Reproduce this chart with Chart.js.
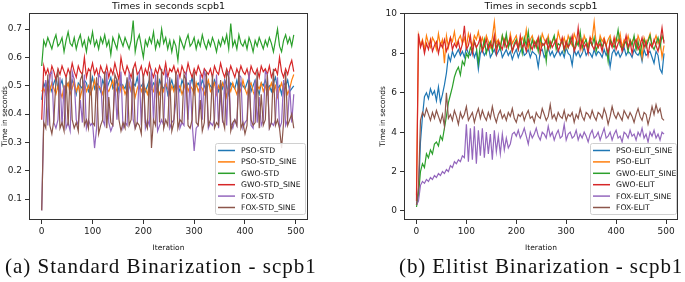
<!DOCTYPE html>
<html>
<head>
<meta charset="utf-8">
<script src="https://cdn.jsdelivr.net/npm/chart.js@4"></script>
<style>
  body { margin: 0; background: #fff; }
  #wrap { position: relative; width: 685px; height: 282px; overflow: hidden; }
  #c1 { position: absolute; left: 0; top: 0; }
  #c2 { position: absolute; left: 345px; top: 0; }
  .cap { position: absolute; top: 256px; font-family: "Liberation Serif", serif; font-size: 21px;
         line-height: 21px; color: #111; white-space: nowrap; }
</style>
</head>
<body>
<div id="wrap">
  <canvas id="c1" width="345" height="256"></canvas>
  <canvas id="c2" width="340" height="256"></canvas>
  <div class="cap" style="left:5px; letter-spacing:1px">(a) Standard Binarization - scpb1</div>
  <div class="cap" style="left:399px; letter-spacing:0.9px">(b) Elitist Binarization - scpb1</div>
</div>
<script>
// iterations, sampled every 4 steps
const iterations = [0,4,8,12,16,20,24,28,32,36,40,44,48,52,56,60,64,68,72,76,
  80,84,88,92,96,100,104,108,112,116,120,124,128,132,136,140,144,148,152,156,
  160,164,168,172,176,180,184,188,192,196,200,204,208,212,216,220,224,228,232,236,
  240,244,248,252,256,260,264,268,272,276,280,284,288,292,296,300,304,308,312,316,
  320,324,328,332,336,340,344,348,352,356,360,364,368,372,376,380,384,388,392,396,
  400,404,408,412,416,420,424,428,432,436,440,444,448,452,456,460,464,468,472,476,
  480,484,488,492,496];

const xTicks = [0, 100, 200, 300, 400, 500];
const yTicksStd = [0.1, 0.2, 0.3, 0.4, 0.5, 0.6, 0.7];
const yTicksElit = [0, 2, 4, 6, 8, 10];

const stdNames = ['PSO-STD', 'PSO-STD_SINE', 'GWO-STD', 'GWO-STD_SINE', 'FOX-STD', 'FOX-STD_SINE'];
const elitNames = ['PSO-ELIT_SINE', 'PSO-ELIT', 'GWO-ELIT_SINE', 'GWO-ELIT', 'FOX-ELIT_SINE', 'FOX-ELIT'];
const colors = ['#1f77b4', '#ff7f0e', '#2ca02c', '#d62728', '#9467bd', '#8c564b'];

// (a) standard binarization
const psoStd = [0.45,0.51,0.49,0.52,0.50,0.48,0.51,0.53,0.49,0.50,
  0.52,0.48,0.50,0.51,0.49,0.52,0.50,0.47,0.51,0.50,
  0.49,0.52,0.51,0.48,0.50,0.53,0.49,0.51,0.50,0.48,
  0.52,0.50,0.49,0.51,0.53,0.49,0.50,0.52,0.48,0.51,
  0.50,0.49,0.52,0.50,0.48,0.51,0.50,0.53,0.49,0.50,
  0.51,0.48,0.50,0.52,0.49,0.51,0.50,0.48,0.52,0.50,
  0.49,0.51,0.47,0.50,0.52,0.49,0.51,0.50,0.48,0.52,
  0.50,0.49,0.51,0.50,0.53,0.48,0.50,0.51,0.49,0.52,
  0.50,0.48,0.51,0.50,0.49,0.52,0.50,0.48,0.51,0.49,
  0.52,0.50,0.47,0.51,0.50,0.49,0.52,0.48,0.51,0.50,
  0.49,0.51,0.53,0.48,0.50,0.52,0.49,0.47,0.51,0.50,
  0.52,0.49,0.50,0.48,0.51,0.53,0.49,0.50,0.47,0.51,
  0.50,0.52,0.48,0.49,0.50];
const psoStdSine = [0.48,0.49,0.47,0.50,0.48,0.51,0.49,0.47,0.50,0.48,
  0.46,0.50,0.49,0.51,0.47,0.49,0.52,0.48,0.50,0.46,
  0.49,0.51,0.48,0.50,0.47,0.49,0.52,0.48,0.50,0.49,
  0.47,0.51,0.49,0.48,0.50,0.52,0.47,0.49,0.51,0.48,
  0.50,0.47,0.49,0.51,0.48,0.50,0.46,0.49,0.51,0.48,
  0.50,0.49,0.47,0.51,0.49,0.48,0.52,0.49,0.47,0.50,
  0.48,0.51,0.49,0.47,0.50,0.48,0.51,0.49,0.50,0.47,
  0.49,0.52,0.48,0.50,0.49,0.47,0.51,0.48,0.50,0.49,
  0.47,0.50,0.52,0.48,0.49,0.51,0.47,0.50,0.48,0.51,
  0.49,0.46,0.50,0.48,0.51,0.49,0.47,0.50,0.48,0.52,
  0.49,0.47,0.50,0.51,0.48,0.46,0.50,0.49,0.51,0.48,
  0.50,0.47,0.49,0.51,0.48,0.50,0.46,0.49,0.51,0.48,
  0.50,0.47,0.49,0.52,0.54];
const gwoStd = [0.57,0.66,0.64,0.67,0.65,0.63,0.66,0.68,0.64,0.65,
  0.67,0.62,0.66,0.69,0.65,0.64,0.67,0.63,0.66,0.68,
  0.64,0.66,0.62,0.67,0.65,0.69,0.64,0.66,0.63,0.67,
  0.65,0.68,0.64,0.66,0.61,0.67,0.65,0.63,0.68,0.66,
  0.64,0.67,0.65,0.63,0.66,0.73,0.62,0.66,0.68,0.64,
  0.60,0.66,0.64,0.67,0.65,0.69,0.63,0.66,0.64,0.70,
  0.65,0.67,0.63,0.66,0.62,0.66,0.64,0.59,0.67,0.65,
  0.63,0.66,0.68,0.64,0.65,0.67,0.63,0.66,0.64,0.68,
  0.65,0.63,0.66,0.64,0.67,0.65,0.62,0.66,0.64,0.67,
  0.65,0.68,0.63,0.72,0.64,0.66,0.63,0.68,0.65,0.64,
  0.66,0.63,0.67,0.65,0.62,0.66,0.64,0.67,0.65,0.63,
  0.66,0.64,0.67,0.65,0.62,0.66,0.70,0.64,0.62,0.66,
  0.68,0.65,0.67,0.64,0.68];
const gwoStdSine = [0.38,0.57,0.54,0.56,0.53,0.57,0.55,0.52,0.56,0.54,
  0.57,0.55,0.53,0.56,0.54,0.58,0.55,0.53,0.57,0.55,
  0.54,0.60,0.53,0.56,0.55,0.58,0.54,0.56,0.53,0.57,
  0.55,0.54,0.57,0.53,0.56,0.54,0.58,0.55,0.52,0.60,
  0.56,0.54,0.57,0.55,0.53,0.56,0.58,0.54,0.55,0.57,
  0.53,0.56,0.54,0.58,0.55,0.53,0.56,0.54,0.57,0.55,
  0.54,0.58,0.53,0.56,0.55,0.57,0.54,0.56,0.53,0.57,
  0.55,0.54,0.58,0.55,0.53,0.56,0.54,0.57,0.55,0.53,
  0.56,0.55,0.54,0.56,0.53,0.57,0.55,0.54,0.58,0.55,
  0.53,0.56,0.54,0.57,0.55,0.53,0.56,0.54,0.57,0.55,
  0.54,0.56,0.53,0.57,0.55,0.54,0.56,0.53,0.57,0.55,
  0.56,0.54,0.57,0.53,0.55,0.56,0.54,0.60,0.55,0.53,
  0.56,0.54,0.57,0.59,0.55];
const foxStd = [0.06,0.38,0.52,0.36,0.54,0.55,0.37,0.35,0.38,0.53,
  0.36,0.50,0.35,0.37,0.34,0.55,0.52,0.38,0.36,0.45,
  0.37,0.54,0.35,0.38,0.36,0.37,0.28,0.35,0.54,0.53,
  0.38,0.36,0.55,0.37,0.34,0.36,0.52,0.38,0.47,0.55,
  0.35,0.37,0.36,0.54,0.51,0.38,0.35,0.37,0.55,0.36,
  0.53,0.35,0.38,0.36,0.56,0.37,0.54,0.34,0.36,0.38,
  0.36,0.55,0.52,0.35,0.37,0.38,0.44,0.54,0.35,0.37,
  0.36,0.55,0.38,0.52,0.37,0.27,0.35,0.36,0.54,0.38,
  0.55,0.53,0.35,0.37,0.36,0.38,0.54,0.35,0.48,0.37,
  0.52,0.36,0.55,0.37,0.35,0.38,0.36,0.54,0.53,0.35,
  0.37,0.38,0.55,0.36,0.35,0.52,0.37,0.46,0.36,0.38,
  0.55,0.54,0.35,0.37,0.36,0.38,0.53,0.35,0.37,0.52,
  0.36,0.38,0.50,0.37,0.47];
const foxStdSine = [0.06,0.37,0.35,0.54,0.36,0.33,0.38,0.52,0.55,0.35,
  0.37,0.34,0.53,0.36,0.55,0.38,0.35,0.37,0.34,0.52,
  0.54,0.36,0.38,0.35,0.55,0.37,0.36,0.53,0.33,0.36,
  0.38,0.55,0.35,0.46,0.37,0.36,0.54,0.52,0.38,0.34,
  0.37,0.35,0.53,0.36,0.38,0.56,0.35,0.37,0.36,0.33,
  0.54,0.37,0.35,0.55,0.28,0.38,0.36,0.54,0.37,0.56,
  0.35,0.38,0.36,0.53,0.34,0.37,0.55,0.35,0.38,0.37,
  0.54,0.52,0.36,0.35,0.38,0.55,0.37,0.36,0.45,0.34,
  0.37,0.55,0.36,0.38,0.54,0.35,0.37,0.36,0.52,0.38,
  0.35,0.55,0.53,0.34,0.37,0.38,0.36,0.55,0.35,0.37,
  0.33,0.36,0.52,0.38,0.36,0.37,0.55,0.35,0.47,0.36,
  0.38,0.54,0.35,0.37,0.56,0.36,0.38,0.35,0.28,0.37,
  0.55,0.36,0.38,0.40,0.35];

// (b) elitist binarization
const psoElitSine = [0.3,0.9,3.5,4.8,5.8,6.0,5.7,6.2,5.9,6.1,
  5.6,6.3,5.5,5.9,6.4,7.0,7.9,7.6,8.1,7.8,
  8.0,8.2,7.9,8.1,7.8,8.3,8.0,7.9,8.2,7.8,
  8.1,7.2,8.0,8.2,7.9,8.1,8.4,7.8,8.0,8.2,
  7.9,8.1,8.3,7.8,8.0,8.2,7.9,8.1,7.7,8.0,
  8.2,7.8,8.1,8.3,7.9,8.0,8.2,7.8,8.1,8.0,
  7.9,7.3,8.1,8.2,7.8,8.0,8.3,7.9,8.1,7.8,
  8.0,8.2,7.9,8.1,7.8,8.3,8.0,7.9,7.4,8.2,
  7.9,8.1,7.8,8.0,8.3,7.9,8.1,8.0,7.8,8.2,
  7.9,8.1,8.0,7.8,8.2,7.9,8.1,7.3,8.0,8.2,
  7.9,8.1,7.8,8.0,8.3,7.9,8.1,8.0,7.8,8.2,
  8.0,7.9,8.1,7.6,8.2,7.9,8.0,8.1,7.8,7.5,
  8.1,7.9,7.2,7.0,8.0];
const psoElit = [0.8,8.9,8.4,8.7,8.2,8.9,8.5,8.3,8.8,8.6,
  8.2,9.0,8.4,8.7,7.5,8.9,8.3,8.8,8.6,9.1,
  8.4,8.7,8.9,8.5,8.8,8.3,9.0,8.6,8.4,8.9,
  8.7,9.1,8.5,8.8,8.4,8.9,8.6,8.3,8.8,9.6,
  8.5,8.7,8.4,8.9,8.6,8.8,8.3,9.0,8.5,8.7,
  8.9,8.4,8.6,8.8,8.5,9.2,8.3,8.7,8.9,8.5,
  8.6,8.8,8.4,9.0,8.7,8.5,8.9,8.3,8.6,8.8,
  8.4,9.1,8.7,8.5,8.8,8.3,8.9,8.6,8.4,9.0,
  8.7,8.5,8.8,8.2,8.9,8.6,8.4,8.8,8.7,9.6,
  8.5,8.3,8.9,8.6,8.8,8.4,8.7,8.9,8.4,8.5,
  8.8,8.6,9.0,8.3,8.7,8.5,8.9,8.4,8.6,8.8,
  8.3,8.9,8.6,7.8,8.8,8.5,8.7,9.0,8.4,8.6,
  8.9,8.5,8.7,7.8,8.4];
const gwoElitSine = [0.2,0.8,2.0,2.4,2.2,2.9,2.7,3.1,2.9,3.4,
  3.5,3.3,3.8,3.6,4.2,4.8,5.5,5.9,6.3,6.8,
  7.1,7.3,6.9,7.6,7.4,8.0,7.8,8.3,8.1,8.6,
  8.3,7.5,8.5,8.2,8.7,8.0,8.4,8.6,8.1,8.8,
  8.3,8.5,8.2,8.9,8.4,9.0,8.3,8.6,8.1,8.5,
  8.7,8.2,8.6,8.0,8.8,8.4,9.1,8.2,8.7,8.3,
  8.6,8.1,8.8,8.4,8.5,7.6,8.7,8.3,8.6,8.9,
  8.2,8.5,8.4,8.7,8.1,8.6,8.3,8.8,8.5,8.2,
  8.6,8.4,9.1,8.3,8.5,8.7,8.2,8.6,8.4,8.8,
  8.1,8.5,8.7,8.3,8.6,8.4,7.6,8.7,8.5,8.3,
  8.6,9.2,8.4,8.2,8.5,8.6,8.1,8.7,8.4,8.9,
  8.2,8.6,8.0,8.5,8.7,8.3,8.6,8.9,8.4,8.2,
  8.5,8.8,8.3,8.9,8.6];
const gwoElit = [0.5,9.0,8.3,8.6,8.0,8.5,8.2,8.7,8.1,8.4,
  8.6,8.0,8.5,8.3,8.7,8.1,8.4,8.8,8.2,8.5,
  8.3,8.6,8.1,8.5,9.4,8.2,8.4,8.9,8.0,8.6,
  8.3,8.5,8.8,8.1,8.4,8.7,8.2,8.5,8.3,8.9,
  8.0,8.6,8.4,8.2,8.7,8.3,8.5,8.8,8.1,8.4,
  8.6,8.2,8.9,8.3,8.5,8.1,8.7,8.4,8.2,8.6,
  8.3,8.8,8.0,8.5,8.4,8.7,8.2,8.6,8.3,8.5,
  8.7,8.1,8.4,8.8,8.2,8.6,8.3,8.5,8.9,8.1,
  8.4,9.3,8.2,8.7,8.3,8.5,8.0,8.8,8.4,8.2,
  8.6,8.3,8.5,8.1,8.7,8.4,8.0,8.6,8.3,8.8,
  8.2,8.5,8.7,8.1,8.4,8.9,8.3,8.6,8.0,8.5,
  8.7,8.2,8.4,8.8,8.3,8.6,7.9,8.5,8.3,8.7,
  8.4,8.1,8.6,9.3,8.5];
const foxElitSine = [0.3,0.5,1.3,1.5,1.4,1.6,1.5,1.7,1.6,1.8,
  1.7,1.9,1.8,2.0,1.9,2.1,2.0,2.3,2.2,2.5,
  2.4,2.6,2.5,2.8,2.7,4.4,2.5,4.2,2.6,4.3,
  2.4,4.1,2.8,4.2,2.7,4.0,2.9,3.9,2.6,4.1,
  3.0,3.8,2.9,3.9,3.1,3.7,3.2,3.4,3.9,4.0,
  3.8,4.1,3.7,3.9,4.2,3.8,3.4,4.0,3.7,3.9,
  4.2,3.8,3.6,4.0,3.9,3.7,4.3,3.8,4.0,3.6,
  3.9,4.1,3.7,3.8,4.4,3.6,3.9,4.0,3.7,3.8,
  4.1,3.6,3.9,3.7,4.0,3.8,3.5,3.9,4.1,3.7,
  3.8,4.0,3.6,3.9,4.2,3.7,3.8,4.0,3.6,3.9,
  4.1,3.7,3.8,3.5,4.0,3.9,3.7,4.1,3.8,3.9,
  3.6,4.0,3.8,4.2,3.7,3.9,3.5,4.0,3.8,4.1,
  3.7,3.9,3.6,4.0,3.9];
const foxElit = [0.3,1.2,4.6,5.0,4.8,5.2,4.9,4.6,5.0,4.7,
  5.1,4.8,4.5,4.9,4.3,6.0,4.7,4.9,4.6,5.1,
  4.8,4.4,5.0,4.7,4.9,5.3,4.6,4.8,5.0,4.5,
  4.9,5.2,4.7,5.1,4.8,4.6,5.0,4.7,5.3,4.8,
  4.5,4.9,5.1,4.7,4.9,4.6,5.0,4.8,5.2,4.7,
  4.5,4.9,4.8,5.0,4.6,4.9,5.1,4.7,4.8,4.5,
  5.0,4.8,4.7,5.2,4.9,4.6,4.8,5.4,4.7,4.9,
  4.6,5.0,4.8,4.7,5.1,4.6,4.9,4.8,5.0,4.5,
  4.9,4.7,5.2,4.8,4.6,5.0,4.9,4.7,5.1,4.8,
  4.6,5.0,4.9,4.7,5.2,4.9,4.4,4.8,5.3,4.9,
  4.7,5.0,4.8,4.6,5.1,4.9,4.7,5.0,4.8,4.5,
  4.9,5.2,4.8,4.6,5.0,4.9,4.4,4.8,5.3,4.9,
  5.4,5.0,5.2,4.7,4.6];

const FONT = 'DejaVu Sans';

// frame, title, axis labels and an in-plot legend, matplotlib style
const decor = {
  id: 'decor',
  afterDraw(chart, args, o) {
    const ctx = chart.ctx;
    const a = chart.chartArea;
    ctx.save();
    ctx.strokeStyle = '#333';
    ctx.lineWidth = 1;
    ctx.strokeRect(Math.round(a.left) + 0.5, Math.round(a.top) + 0.5,
      Math.round(a.right - a.left) - 1, Math.round(a.bottom - a.top) - 1);

    ctx.fillStyle = '#111';
    ctx.textAlign = 'center';
    ctx.textBaseline = 'alphabetic';
    ctx.font = '9.5px "' + FONT + '"';
    ctx.fillText(o.title, (a.left + a.right) / 2, 9);
    ctx.font = '7.5px "' + FONT + '"';
    ctx.fillText('Iteration', (a.left + a.right) / 2, 250);
    ctx.save();
    ctx.translate(o.ylabelX, (a.top + a.bottom) / 2);
    ctx.rotate(-Math.PI / 2);
    ctx.fillText('Time in seconds', 0, 0);
    ctx.restore();

    // legend box
    const bx = a.right - o.legRight - o.legW, by = a.bottom - o.legBottom - o.legH;
    ctx.fillStyle = 'rgba(255,255,255,0.85)';
    ctx.strokeStyle = '#d0d0d0';
    ctx.beginPath();
    ctx.roundRect(bx + 0.5, by + 0.5, o.legW, o.legH, 2);
    ctx.fill();
    ctx.stroke();
    ctx.font = '7.7px "' + FONT + '"';
    ctx.textAlign = 'left';
    ctx.textBaseline = 'middle';
    chart.data.datasets.forEach((ds, i) => {
      const y = by + 7.5 + i * 11.4;
      ctx.strokeStyle = ds.borderColor;
      ctx.lineWidth = 1.5;
      ctx.beginPath();
      ctx.moveTo(bx + 3, y);
      ctx.lineTo(bx + 20, y);
      ctx.stroke();
      ctx.fillStyle = '#111';
      ctx.fillText(ds.label, bx + 26, y + 0.5);
    });
    ctx.restore();
  }
};

function makeChart(id, names, series, yMin, yMax, yTicks, fmt, o) {
  const datasets = series.map((s, i) => ({
    label: names[i],
    data: s.map((v, j) => ({ x: iterations[j], y: v })),
    borderColor: colors[i],
    borderWidth: 1.2,
    pointRadius: 0,
    tension: 0,
    order: series.length - i   // later series on top, like matplotlib
  }));
  return new Chart(document.getElementById(id), {
    type: 'line',
    data: { datasets: datasets },
    options: {
      responsive: false,
      animation: false,
      devicePixelRatio: 1,
      layout: { padding: { top: 13, right: o.padRight, left: 0, bottom: 0 } },
      plugins: { legend: { display: false }, tooltip: { enabled: false }, decor: o },
      scales: {
        x: {
          type: 'linear', min: -25, max: 524,
          afterFit: s => { s.height = 36; },
          afterBuildTicks: s => { s.ticks = xTicks.map(v => ({ value: v })); },
          grid: { drawOnChartArea: false, drawTicks: true, tickLength: 4, color: '#333' },
          border: { display: false },
          ticks: { font: { family: FONT, size: 9 }, color: '#222', padding: 2, maxRotation: 0 }
        },
        y: {
          type: 'linear', min: yMin, max: yMax,
          afterFit: s => { s.width = o.yWidth; },
          afterBuildTicks: s => { s.ticks = yTicks.map(v => ({ value: v })); },
          grid: { drawOnChartArea: false, drawTicks: true, tickLength: 4, color: '#333' },
          border: { display: false },
          ticks: { font: { family: FONT, size: 9 }, color: '#222', padding: 3, callback: fmt }
        }
      }
    },
    plugins: [decor]
  });
}

makeChart('c1', stdNames, [psoStd, psoStdSine, gwoStd, gwoStdSine, foxStd, foxStdSine],
  0.026, 0.757, yTicksStd, v => v.toFixed(1),
  { title: 'Times in seconds scpb1', ylabelX: 7, padRight: 37, yWidth: 29,
    legW: 90, legH: 71, legRight: 3, legBottom: 6 });

makeChart('c2', elitNames, [psoElitSine, psoElit, gwoElitSine, gwoElit, foxElitSine, foxElit],
  -0.46, 10.05, yTicksElit, v => String(v),
  { title: 'Times in seconds scpb1', ylabelX: 40, padRight: 7, yWidth: 59,
    legW: 86, legH: 71, legRight: 2, legBottom: 6 });
</script>
</body>
</html>
